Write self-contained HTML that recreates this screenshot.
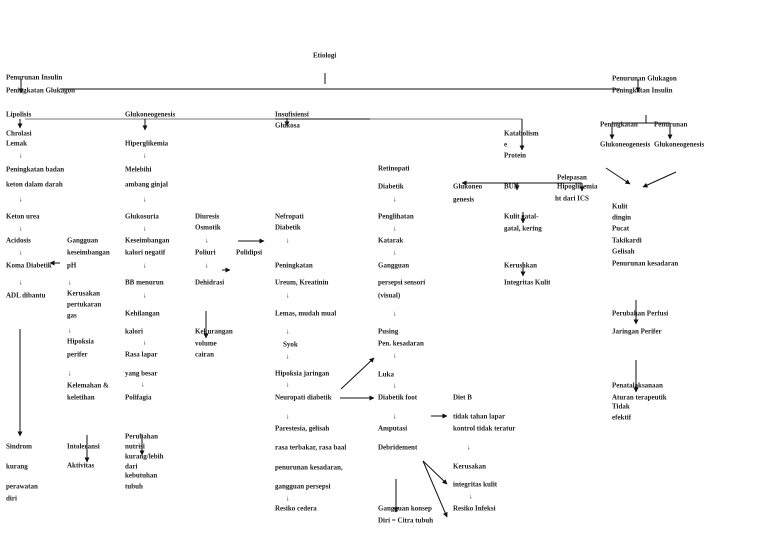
<!DOCTYPE html>
<html><head><meta charset="utf-8"><style>
html,body{margin:0;padding:0;background:#fff;width:768px;height:543px;overflow:hidden}
svg text{font-family:"Liberation Serif",serif;font-size:7px;font-weight:bold;fill:#222;dominant-baseline:middle}
</style></head><body>
<svg width="768" height="543" viewBox="0 0 768 543" xmlns="http://www.w3.org/2000/svg">
<defs><marker id="a" viewBox="0 0 10 10" refX="9" refY="5" markerWidth="5" markerHeight="5" orient="auto"><path d="M0,0L10,5L0,10z" fill="#111"/></marker></defs>
<g stroke="#111" stroke-width="1" fill="none">
<line x1="60" y1="89" x2="620" y2="89"/>
<line x1="325" y1="73" x2="325" y2="84"/>
<line x1="25" y1="119" x2="522" y2="119" stroke="#777"/>
<line x1="275" y1="119" x2="370" y2="119"/>
<line x1="21" y1="79" x2="21" y2="93" marker-end="url(#a)"/>
<line x1="638" y1="80" x2="638" y2="92" marker-end="url(#a)"/>
<line x1="20" y1="119" x2="20" y2="128" marker-end="url(#a)"/>
<line x1="145" y1="119" x2="145" y2="130" marker-end="url(#a)"/>
<line x1="287" y1="118" x2="287" y2="126" marker-end="url(#a)"/>
<line x1="522" y1="119" x2="522" y2="150" marker-end="url(#a)"/>
<line x1="646" y1="115" x2="646" y2="123"/>
<line x1="612" y1="123" x2="670" y2="123"/>
<line x1="612" y1="123" x2="612" y2="139" marker-end="url(#a)"/>
<line x1="670" y1="123" x2="670" y2="139" marker-end="url(#a)"/>
<line x1="606" y1="168" x2="630" y2="184" marker-end="url(#a)"/>
<line x1="676" y1="172" x2="643" y2="187" marker-end="url(#a)"/>
<line x1="462" y1="183" x2="582" y2="183"/>
<line x1="470" y1="183" x2="462" y2="183" marker-end="url(#a)"/>
<line x1="582" y1="183" x2="582" y2="191" marker-end="url(#a)"/>
<line x1="517" y1="183" x2="517" y2="190" marker-end="url(#a)"/>
<line x1="523" y1="212" x2="523" y2="223" marker-end="url(#a)"/>
<line x1="523" y1="262" x2="523" y2="276" marker-end="url(#a)"/>
<line x1="238" y1="241" x2="264" y2="241" marker-end="url(#a)"/>
<line x1="60" y1="263" x2="50" y2="263" marker-end="url(#a)"/>
<line x1="222" y1="270" x2="230" y2="270" marker-end="url(#a)"/>
<line x1="206" y1="311" x2="206" y2="338" marker-end="url(#a)"/>
<line x1="20" y1="329" x2="20" y2="436" marker-end="url(#a)"/>
<line x1="87" y1="435" x2="87" y2="462" marker-end="url(#a)"/>
<line x1="142" y1="434" x2="142" y2="455" marker-end="url(#a)"/>
<line x1="341" y1="389" x2="374" y2="358" marker-end="url(#a)"/>
<line x1="340" y1="398" x2="374" y2="398" marker-end="url(#a)"/>
<line x1="431" y1="416" x2="447" y2="416" marker-end="url(#a)"/>
<line x1="423" y1="461" x2="447" y2="484" marker-end="url(#a)"/>
<line x1="423" y1="461" x2="447" y2="517" marker-end="url(#a)"/>
<line x1="396" y1="479" x2="396" y2="512" marker-end="url(#a)"/>
<line x1="636" y1="300" x2="636" y2="324" marker-end="url(#a)"/>
<line x1="636" y1="360" x2="636" y2="392" marker-end="url(#a)"/>
</g>
<text x="313" y="56">Etiologi</text>
<text x="6" y="78">Penurunan Insulin</text><text x="6" y="91">Peningkatan Glukagon</text>
<text x="612" y="79">Penurunan Glukagon</text><text x="612" y="91">Peningkatan Insulin</text>
<text x="6" y="115">Lipolisis</text><text x="6" y="134">Chrolasi</text><text x="6" y="144">Lemak</text>
<text x="19" y="156">↓</text><text x="6" y="170">Peningkatan badan</text><text x="6" y="185">keton dalam darah</text>
<text x="19" y="200">↓</text><text x="6" y="217">Keton urea</text><text x="19" y="229">↓</text><text x="6" y="241">Acidosis</text>
<text x="19" y="253">↓</text><text x="6" y="266">Koma Diabetik</text><text x="19" y="283">↓</text><text x="6" y="296">ADL dibantu</text>
<text x="6" y="447">Sindrom</text><text x="6" y="467">kurang</text><text x="6" y="487">perawatan</text><text x="6" y="499">diri</text>
<text x="67" y="241">Gangguan</text><text x="67" y="253">keseimbangan</text><text x="67" y="266">pH</text>
<text x="68" y="283">↓</text><text x="67" y="294">Kerusakan</text><text x="67" y="305">pertukaran</text><text x="67" y="316">gas</text>
<text x="68" y="331">↓</text><text x="67" y="342">Hipoksia</text><text x="67" y="355">perifer</text>
<text x="68" y="374">↓</text><text x="67" y="386">Kelemahan &amp;</text><text x="67" y="398">keletihan</text>
<text x="67" y="447">Intoleransi</text><text x="67" y="466">Aktivitas</text>
<text x="125" y="115">Glukoneogenesis</text><text x="125" y="144">Hiperglikemia</text><text x="143" y="156">↓</text>
<text x="125" y="170">Melebihi</text><text x="125" y="185">ambang ginjal</text><text x="143" y="200">↓</text>
<text x="125" y="217">Glukosuria</text><text x="143" y="229">↓</text><text x="125" y="241">Keseimbangan</text>
<text x="125" y="253">kalori negatif</text><text x="143" y="266">↓</text><text x="125" y="283">BB menurun</text>
<text x="143" y="296">↓</text><text x="125" y="314">Kehilangan</text><text x="125" y="332">kalori</text>
<text x="143" y="343">↓</text><text x="125" y="355">Rasa lapar</text><text x="125" y="374">yang besar</text>
<text x="141" y="385">↓</text><text x="125" y="398">Polifagia</text>
<text x="125" y="437">Perubahan</text><text x="125" y="447">nutrisi</text><text x="125" y="457">kurang/lebih</text>
<text x="125" y="467">dari</text><text x="125" y="476">kebutuhan</text><text x="125" y="487">tubuh</text>
<text x="195" y="217">Diuresis</text><text x="195" y="228">Osmotik</text><text x="205" y="241">↓</text>
<text x="195" y="253">Poliuri</text><text x="236" y="253">Polidipsi</text><text x="205" y="266">↓</text>
<text x="195" y="283">Dehidrasi</text><text x="195" y="332">Kekurangan</text><text x="195" y="344">volume</text><text x="195" y="355">cairan</text>
<text x="275" y="115">Insufisiensi</text><text x="275" y="126">Glukosa</text>
<text x="275" y="217">Nefropati</text><text x="275" y="228">Diabetik</text><text x="286" y="241">↓</text>
<text x="275" y="266">Peningkatan</text><text x="275" y="283">Ureum, Kreatinin</text><text x="286" y="296">↓</text>
<text x="275" y="314">Lemas, mudah mual</text><text x="286" y="332">↓</text><text x="283" y="345">Syok</text>
<text x="286" y="357">↓</text><text x="275" y="374">Hipoksia jaringan</text><text x="286" y="385">↓</text>
<text x="275" y="398">Neuropati diabetik</text><text x="286" y="417">↓</text>
<text x="275" y="429">Parestesia, gelisah</text><text x="275" y="448">rasa terbakar, rasa baal</text>
<text x="275" y="468">penurunan kesadaran,</text><text x="275" y="487">gangguan persepsi</text>
<text x="286" y="499">↓</text><text x="275" y="509">Resiko cedera</text>
<text x="378" y="169">Retinopati</text><text x="378" y="187">Diabetik</text><text x="393" y="200">↓</text>
<text x="378" y="217">Penglihatan</text><text x="393" y="229">↓</text><text x="378" y="241">Katarak</text>
<text x="393" y="253">↓</text><text x="378" y="266">Gangguan</text><text x="378" y="283">persepsi sensori</text>
<text x="378" y="296">(visual)</text><text x="393" y="314">↓</text><text x="378" y="332">Pusing</text>
<text x="378" y="344">Pen. kesadaran</text><text x="393" y="356">↓</text><text x="378" y="375">Luka</text>
<text x="393" y="386">↓</text><text x="378" y="398">Diabetik foot</text><text x="393" y="417">↓</text>
<text x="378" y="429">Amputasi</text><text x="378" y="448">Debridement</text>
<text x="378" y="509">Gangguan konsep</text><text x="378" y="521">Diri = Citra tubuh</text>
<text x="453" y="398">Diet B</text><text x="453" y="417">tidak tahan lapar</text><text x="453" y="429">kontrol tidak teratur</text>
<text x="467" y="448">↓</text><text x="453" y="467">Kerusakan</text><text x="453" y="485">integritas kulit</text>
<text x="469" y="497">↓</text><text x="453" y="509">Resiko Infeksi</text>
<text x="453" y="187">Glukoneo</text><text x="453" y="200">genesis</text>
<text x="504" y="134">Katabolism</text><text x="504" y="145">e</text><text x="504" y="156">Protein</text>
<text x="504" y="187">BUN</text><text x="504" y="217">Kulit gatal-</text><text x="504" y="229">gatal, kering</text>
<text x="504" y="266">Kerusakan</text><text x="504" y="283">Integritas Kulit</text>
<text x="557" y="178">Pelepasan</text><text x="557" y="187">Hipoglikemia</text><text x="555" y="199">ht dari ICS</text>
<text x="600" y="125">Peningkatan</text><text x="654" y="125">Penurunan</text>
<text x="600" y="145">Glukoneogenesis</text><text x="654" y="145">Glukoneogenesis</text>
<text x="612" y="207">Kulit</text><text x="612" y="218">dingin</text><text x="612" y="229">Pucat</text>
<text x="612" y="241">Takikardi</text><text x="612" y="252">Gelisah</text><text x="612" y="264">Penurunan kesadaran</text>
<text x="612" y="314">Perubahan Perfusi</text><text x="612" y="332">Jaringan Perifer</text>
<text x="612" y="386">Penatalaksanaan</text><text x="612" y="398">Aturan terapeutik</text>
<text x="612" y="407">Tidak</text><text x="612" y="418">efektif</text>
</svg>
</body></html>
